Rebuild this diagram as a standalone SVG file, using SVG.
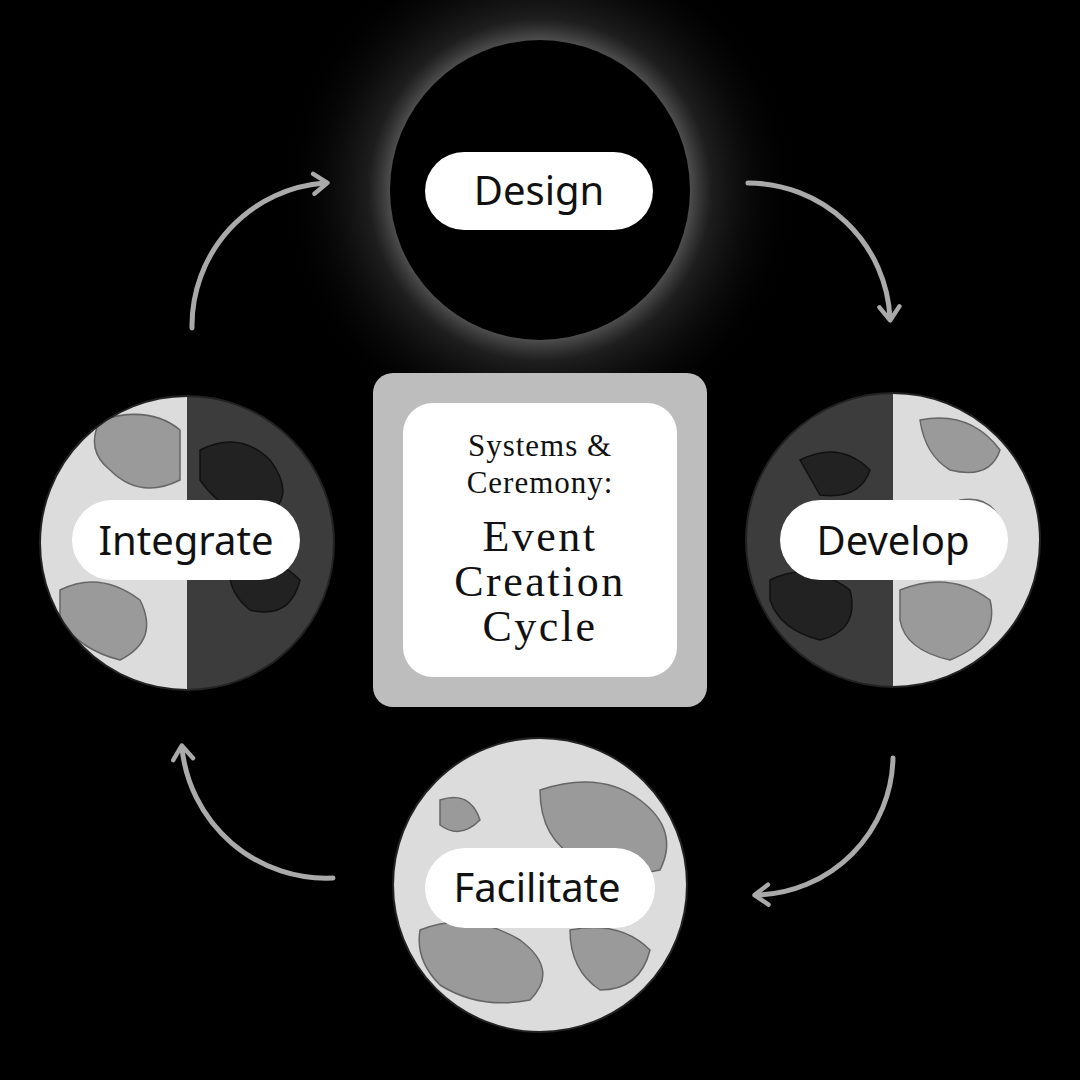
<svg xmlns="http://www.w3.org/2000/svg" width="1080" height="1080" viewBox="0 0 1080 1080">
<defs>
<radialGradient id="glow" cx="540" cy="190" r="260" gradientUnits="userSpaceOnUse">
<stop offset="0.56" stop-color="#ffffff" stop-opacity="0.35"/>
<stop offset="0.66" stop-color="#777" stop-opacity="0.25"/>
<stop offset="1" stop-color="#000" stop-opacity="0"/>
</radialGradient>
<marker id="ah" viewBox="0 0 20 20" refX="12" refY="10" markerWidth="5" markerHeight="5" orient="auto" markerUnits="strokeWidth">
<path d="M3 2 L14 10 L3 18" fill="none" stroke="#aaa" stroke-width="3.5" stroke-linecap="round" stroke-linejoin="round"/>
</marker>
<clipPath id="cI"><circle cx="187" cy="543" r="147"/></clipPath>
<clipPath id="cD"><circle cx="893" cy="540" r="147"/></clipPath>
<clipPath id="cF"><circle cx="540" cy="885" r="147"/></clipPath>
</defs>
<style>
.pill{fill:#fff}
.lbl{font-family:"Noto Sans","Open Sans",sans-serif;font-size:40px;fill:#111;text-anchor:middle}
.ser{font-family:"Liberation Serif","DejaVu Serif",serif;fill:#111;text-anchor:middle}
.arc{fill:none;stroke:#aaa;stroke-width:5;stroke-linecap:round}
.cr{fill:#9a9a9a;stroke:#666;stroke-width:1.5}
.crd{fill:#222;stroke:#111;stroke-width:1.5}
</style>
<rect width="1080" height="1080" fill="#000"/>
<circle cx="540" cy="190" r="260" fill="url(#glow)"/>
<g id="design">
<circle cx="540" cy="190" r="150" fill="#000"/>
<rect class="pill" x="425" y="152" width="228" height="78" rx="39"/>
<text class="lbl" x="539" y="205">Design</text>
</g>
<g id="integrate">
<g clip-path="url(#cI)">
<rect x="40" y="396" width="147" height="294" fill="#dcdcdc"/>
<rect x="187" y="396" width="147" height="294" fill="#3c3c3c"/>
<path class="cr" d="M100 420 Q150 405 180 430 L180 480 Q140 500 110 470 Q85 450 100 420Z"/>
<path class="cr" d="M60 590 Q100 570 140 600 Q160 640 120 660 Q80 650 60 620Z"/>
<path class="cr" d="M150 530 Q175 520 180 560 Q165 580 145 560Z"/>
<path class="crd" d="M200 450 Q240 430 270 460 Q300 500 260 520 Q220 510 200 480Z"/>
<path class="crd" d="M230 560 Q270 550 300 580 Q290 620 250 610 Q225 590 230 560Z"/>
</g>
<circle cx="187" cy="543" r="147" fill="none" stroke="#222" stroke-width="2"/>
<rect class="pill" x="72" y="500" width="228" height="80" rx="40"/>
<text class="lbl" x="186" y="555">Integrate</text>
</g>
<g id="develop">
<g clip-path="url(#cD)">
<rect x="746" y="393" width="147" height="294" fill="#3c3c3c"/>
<rect x="893" y="393" width="147" height="294" fill="#dcdcdc"/>
<path class="crd" d="M770 580 Q810 560 850 590 Q860 630 820 640 Q780 630 770 600Z"/>
<path class="crd" d="M800 460 Q840 440 870 470 Q860 500 820 495Z"/>
<path class="cr" d="M920 420 Q970 410 1000 450 Q990 480 950 470 Q925 455 920 420Z"/>
<path class="cr" d="M900 590 Q950 570 990 600 Q1000 640 950 660 Q905 650 900 620Z"/>
<path class="cr" d="M960 500 Q990 495 1000 520 Q985 540 960 530Z"/>
</g>
<circle cx="893" cy="540" r="147" fill="none" stroke="#222" stroke-width="2"/>
<rect class="pill" x="780" y="500" width="228" height="80" rx="40"/>
<text class="lbl" x="893" y="555">Develop</text>
</g>
<g id="facilitate">
<g clip-path="url(#cF)">
<rect x="393" y="738" width="294" height="294" fill="#dcdcdc"/>
<path class="cr" d="M540 790 Q600 770 640 800 Q680 830 660 870 Q620 880 580 860 Q540 840 540 790Z"/>
<path class="cr" d="M420 930 Q470 910 520 940 Q560 970 530 1000 Q480 1010 440 985 Q415 960 420 930Z"/>
<path class="cr" d="M570 930 Q620 920 650 950 Q640 990 600 990 Q570 970 570 930Z"/>
<path class="cr" d="M440 800 Q470 790 480 820 Q460 840 440 825Z"/>
</g>
<circle cx="540" cy="885" r="147" fill="none" stroke="#222" stroke-width="2"/>
<rect class="pill" x="425" y="848" width="230" height="80" rx="40"/>
<text class="lbl" x="537" y="902">Facilitate</text>
</g>
<g id="center">
<rect x="373" y="373" width="334" height="334" rx="20" fill="#bdbdbd"/>
<rect x="403" y="403" width="274" height="274" rx="30" fill="#fff"/>
<text class="ser" x="540" y="456" font-size="31" letter-spacing="1">Systems &amp;</text>
<text class="ser" x="540" y="493" font-size="31" letter-spacing="1">Ceremony:</text>
<text class="ser" x="540" y="551" font-size="44" letter-spacing="2.5">Event</text>
<text class="ser" x="540" y="596" font-size="44" letter-spacing="2.5">Creation</text>
<text class="ser" x="540" y="641" font-size="44" letter-spacing="2.5">Cycle</text>
</g>
<g id="connectors">
<path class="arc" d="M192 328 A143 143 0 0 1 325 183" marker-end="url(#ah)"/>
<path class="arc" d="M748 183 A142 142 0 0 1 890 318" marker-end="url(#ah)"/>
<path class="arc" d="M893 758 A140 140 0 0 1 757 895" marker-end="url(#ah)"/>
<path class="arc" d="M333 878 A145 145 0 0 1 182 748" marker-end="url(#ah)"/>
</g>
</svg>
